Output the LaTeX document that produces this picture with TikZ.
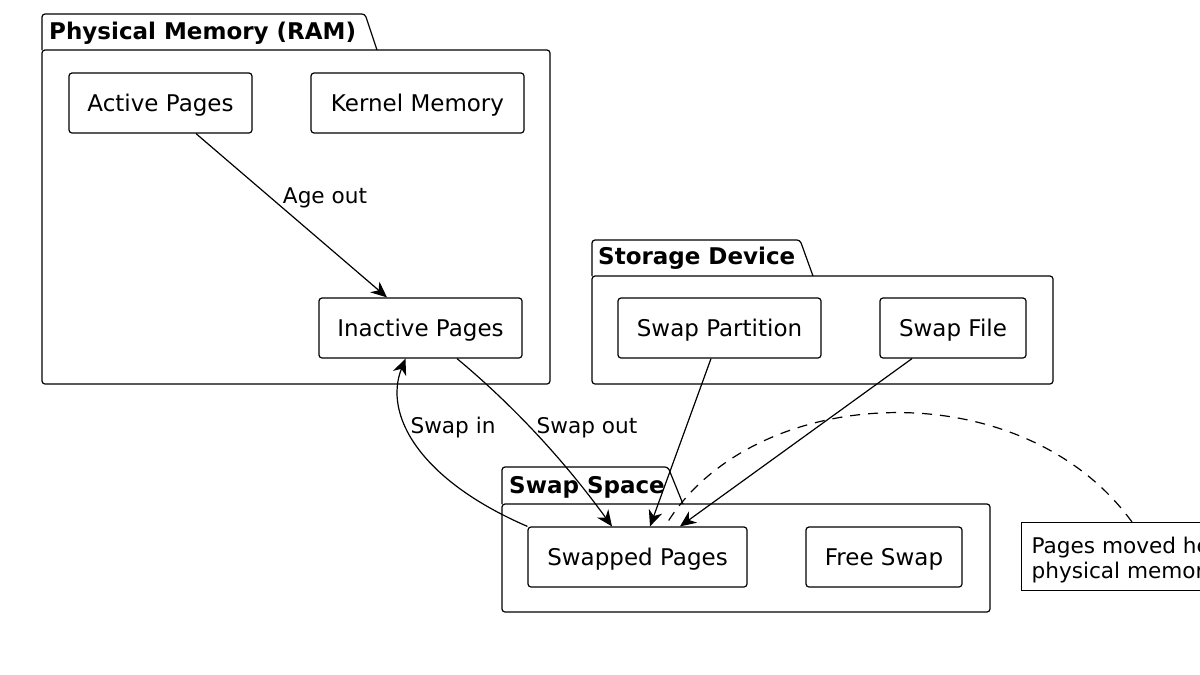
\documentclass[tikz,border=0pt]{standalone}
\usepackage{fontspec}
\setmainfont{DejaVu Sans}
\usetikzlibrary{arrows.meta}
\begin{document}
\begin{tikzpicture}[x=1pt,y=-1pt,
 box/.style={draw, rounded corners=3pt, line width=1.2pt, inner sep=0pt, text height=18pt, text depth=2pt, font=\fontsize{23}{27}\selectfont},
 pkg/.style={draw, line width=1.2pt, rounded corners=3pt},
 ttl/.style={anchor=west, inner sep=0pt, font=\fontsize{23}{27}\selectfont\bfseries},
 lbl/.style={inner sep=0pt, font=\fontsize{21.6}{25}\selectfont},
 conn/.style={line width=1.2pt, -{Stealth[length=16pt,width=14pt,inset=5pt]}},
 notebox/.style={draw, line width=1.2pt, anchor=north west, align=left, inner xsep=10pt, inner ysep=0pt, minimum height=68pt, font=\fontsize{21.6}{25}\selectfont},
]
\useasboundingbox (0,0) rectangle (1200,675);
\clip (0,0) rectangle (1200,675);
\fill[white] (0,0) rectangle (1200,675);

% Packages
\draw[pkg] (42,50) -- (42,14) -- (365,14) -- (377,50);
\draw[pkg] (42,50) rectangle (550,384);
\node[ttl] (t1) at (49,33) {Physical Memory (RAM)};

\draw[pkg] (592,276) -- (592,240) -- (800,240) -- (813,276);
\draw[pkg] (592,276) rectangle (1053,384);
\node[ttl] (t2) at (598,258) {Storage Device};

\draw[pkg] (502,504) -- (502,467) -- (668,467) -- (683,504);
\draw[pkg] (502,504) rectangle (990,612);
\node[ttl] (t3) at (509,487) {Swap Space};

% Nodes
\node[box, minimum width=183pt, minimum height=60pt] (ap) at (160.5,103) {Active Pages};
\node[box, minimum width=213pt, minimum height=60pt] (km) at (417.5,103) {Kernel Memory};
\node[box, minimum width=203pt, minimum height=60pt] (ip) at (420.5,328) {Inactive Pages};
\node[box, minimum width=203pt, minimum height=60pt] (spart) at (719.5,328) {Swap Partition};
\node[box, minimum width=146pt, minimum height=60pt] (sf) at (953,328) {Swap File};
\node[box, minimum width=219pt, minimum height=60pt] (sp) at (637.5,557) {Swapped Pages};
\node[box, minimum width=156pt, minimum height=60pt] (fs) at (884,557) {Free Swap};

\node[notebox] (note) at (1021,522) {\rule{0pt}{23pt}Pages moved here when\\physical memory is full};

% Connectors
\draw[conn] ([xshift=35.5pt]ap.south) -- ([xshift=-33.5pt]ip.north);
\node[lbl] (l1) at (325,197.5) {Age out};

\draw[conn] ([xshift=36.5pt]ip.south) .. controls +(60,50) and +(-45,-62) .. ([xshift=-25.5pt]sp.north);
\node[lbl] (l2) at (587,428) {Swap out};

\draw[conn] (sp.north west) .. controls (420,480) and (383,415) .. ([xshift=-15pt]ip.south);
\node[lbl] (l3) at (453,428) {Swap in};

\draw[conn] ([xshift=-8.5pt]spart.south) -- ([xshift=12.5pt]sp.north);
\draw[conn] ([xshift=-41pt]sf.south) -- ([xshift=42.5pt]sp.north);

\draw[line width=1.2pt, dash pattern=on 10pt off 8pt] ([xshift=111pt]note.north west) .. controls (1020,368) and (750,383) .. ([xshift=27.5pt]sp.north);
\end{tikzpicture}
\end{document}
